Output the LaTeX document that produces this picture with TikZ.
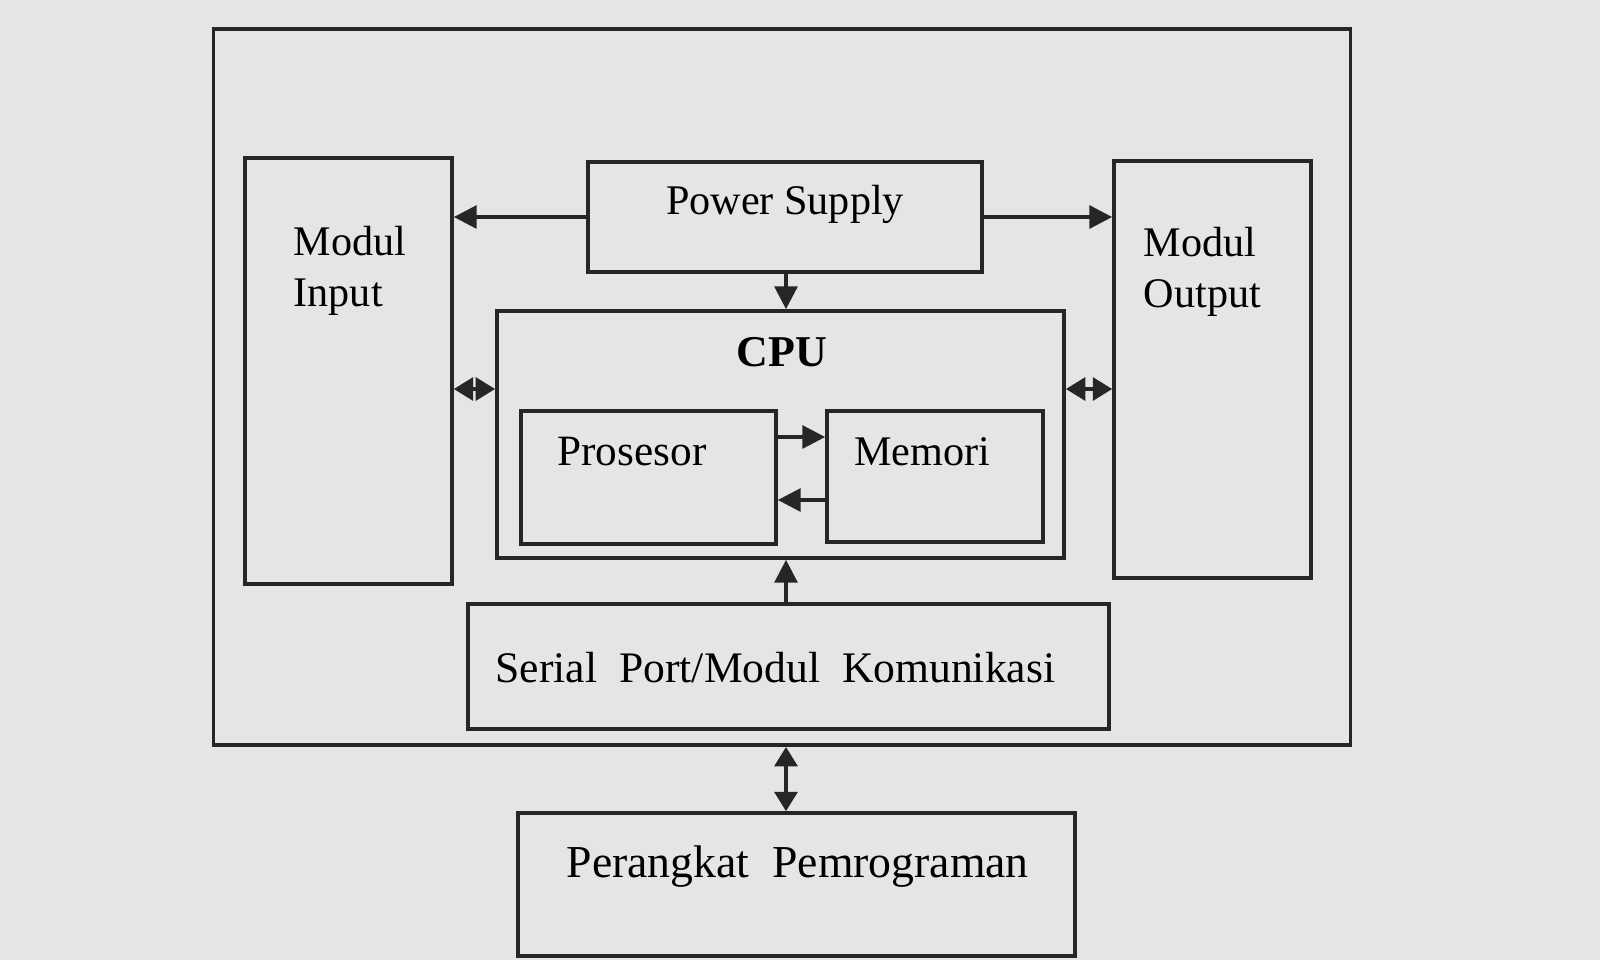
\documentclass[tikz,border=0pt]{standalone}
\usepackage{fontspec}
\setmainfont{Liberation Serif}
\usetikzlibrary{arrows.meta}
\begin{document}
\begin{tikzpicture}[x=0.01cm,y=-0.01cm,
  box/.style={draw=black!85,line width=1pt,rectangle,inner sep=0pt},
  lbl/.style={font=\fontsize{12}{14.5}\selectfont,inner sep=0pt},
  arr/.style={draw=black!85,line width=1pt,-{Triangle[length=6.5pt,width=6.5pt]}},
  darr/.style={draw=black!85,line width=1pt,{Triangle[length=5.5pt,width=6.5pt]}-{Triangle[length=5.5pt,width=6.5pt]}}]
\fill[black!10] (0,0) rectangle (1600,960);
\useasboundingbox (0,0) rectangle (1600,960);
% boxes
\node[box,minimum width=11.36cm,minimum height=7.16cm] (outer) at (782,387) {};
\node[box,minimum width=3.94cm,minimum height=1.10cm] (ps) at (785,217) {};
\node[lbl] at (785,204) {Power Supply};
\node[box,minimum width=2.07cm,minimum height=4.26cm] (mi) at (348.5,371) {};
\node[lbl,align=left,anchor=west] at (293,271) {Modul\\Input};
\node[box,minimum width=1.97cm,minimum height=4.17cm] (mo) at (1212.5,369.5) {};
\node[lbl,align=left,anchor=west] at (1143,272) {Modul\\Output};
\node[box,minimum width=5.67cm,minimum height=2.47cm] (cpu) at (780.5,434.5) {};
\node[lbl,font=\fontsize{12.5}{15}\selectfont\bfseries] at (782,352) {CPU};
\node[box,minimum width=2.55cm,minimum height=1.33cm] (pro) at (648.5,477.5) {};
\node[lbl,font=\fontsize{12.3}{15}\selectfont] at (632,452) {Prosesor};
\node[box,minimum width=2.16cm,minimum height=1.31cm] (mem) at (935,476.5) {};
\node[lbl] at (922,452) {Memori};
\node[box,minimum width=6.41cm,minimum height=1.25cm] (ser) at (788.5,666.5) {};
\node[lbl,anchor=west,font=\fontsize{12.4}{15}\selectfont] at (495,668) {Serial\ \ Port/Modul\ \ Komunikasi};
\node[box,minimum width=5.57cm,minimum height=1.43cm] (per) at (796.5,884.5) {};
\node[lbl,anchor=west,font=\fontsize{13}{15}\selectfont] at (566,867) {Perangkat\ \ Pemrograman};
% helper coordinates
\coordinate (xmid) at (786,0);
\coordinate (yio) at (0,389);
\coordinate (ypm) at (0,437);
\coordinate (ymp) at (0,500);
% arrows
\draw[arr] (ps.west) -- (ps.west -| mi.east);
\draw[arr] (ps.east) -- (ps.east -| mo.west);
\draw[arr] (ps.south -| xmid) -- (cpu.north -| xmid);
\draw[darr] (mi.east |- yio) -- (cpu.west |- yio);
\draw[darr] (cpu.east |- yio) -- (mo.west |- yio);
\draw[arr] (pro.east |- ypm) -- (mem.west |- ypm);
\draw[arr] (mem.west |- ymp) -- (pro.east |- ymp);
\draw[arr] (ser.north -| xmid) -- (cpu.south -| xmid);
\draw[darr] (outer.south -| xmid) -- (per.north -| xmid);
\end{tikzpicture}
\end{document}
